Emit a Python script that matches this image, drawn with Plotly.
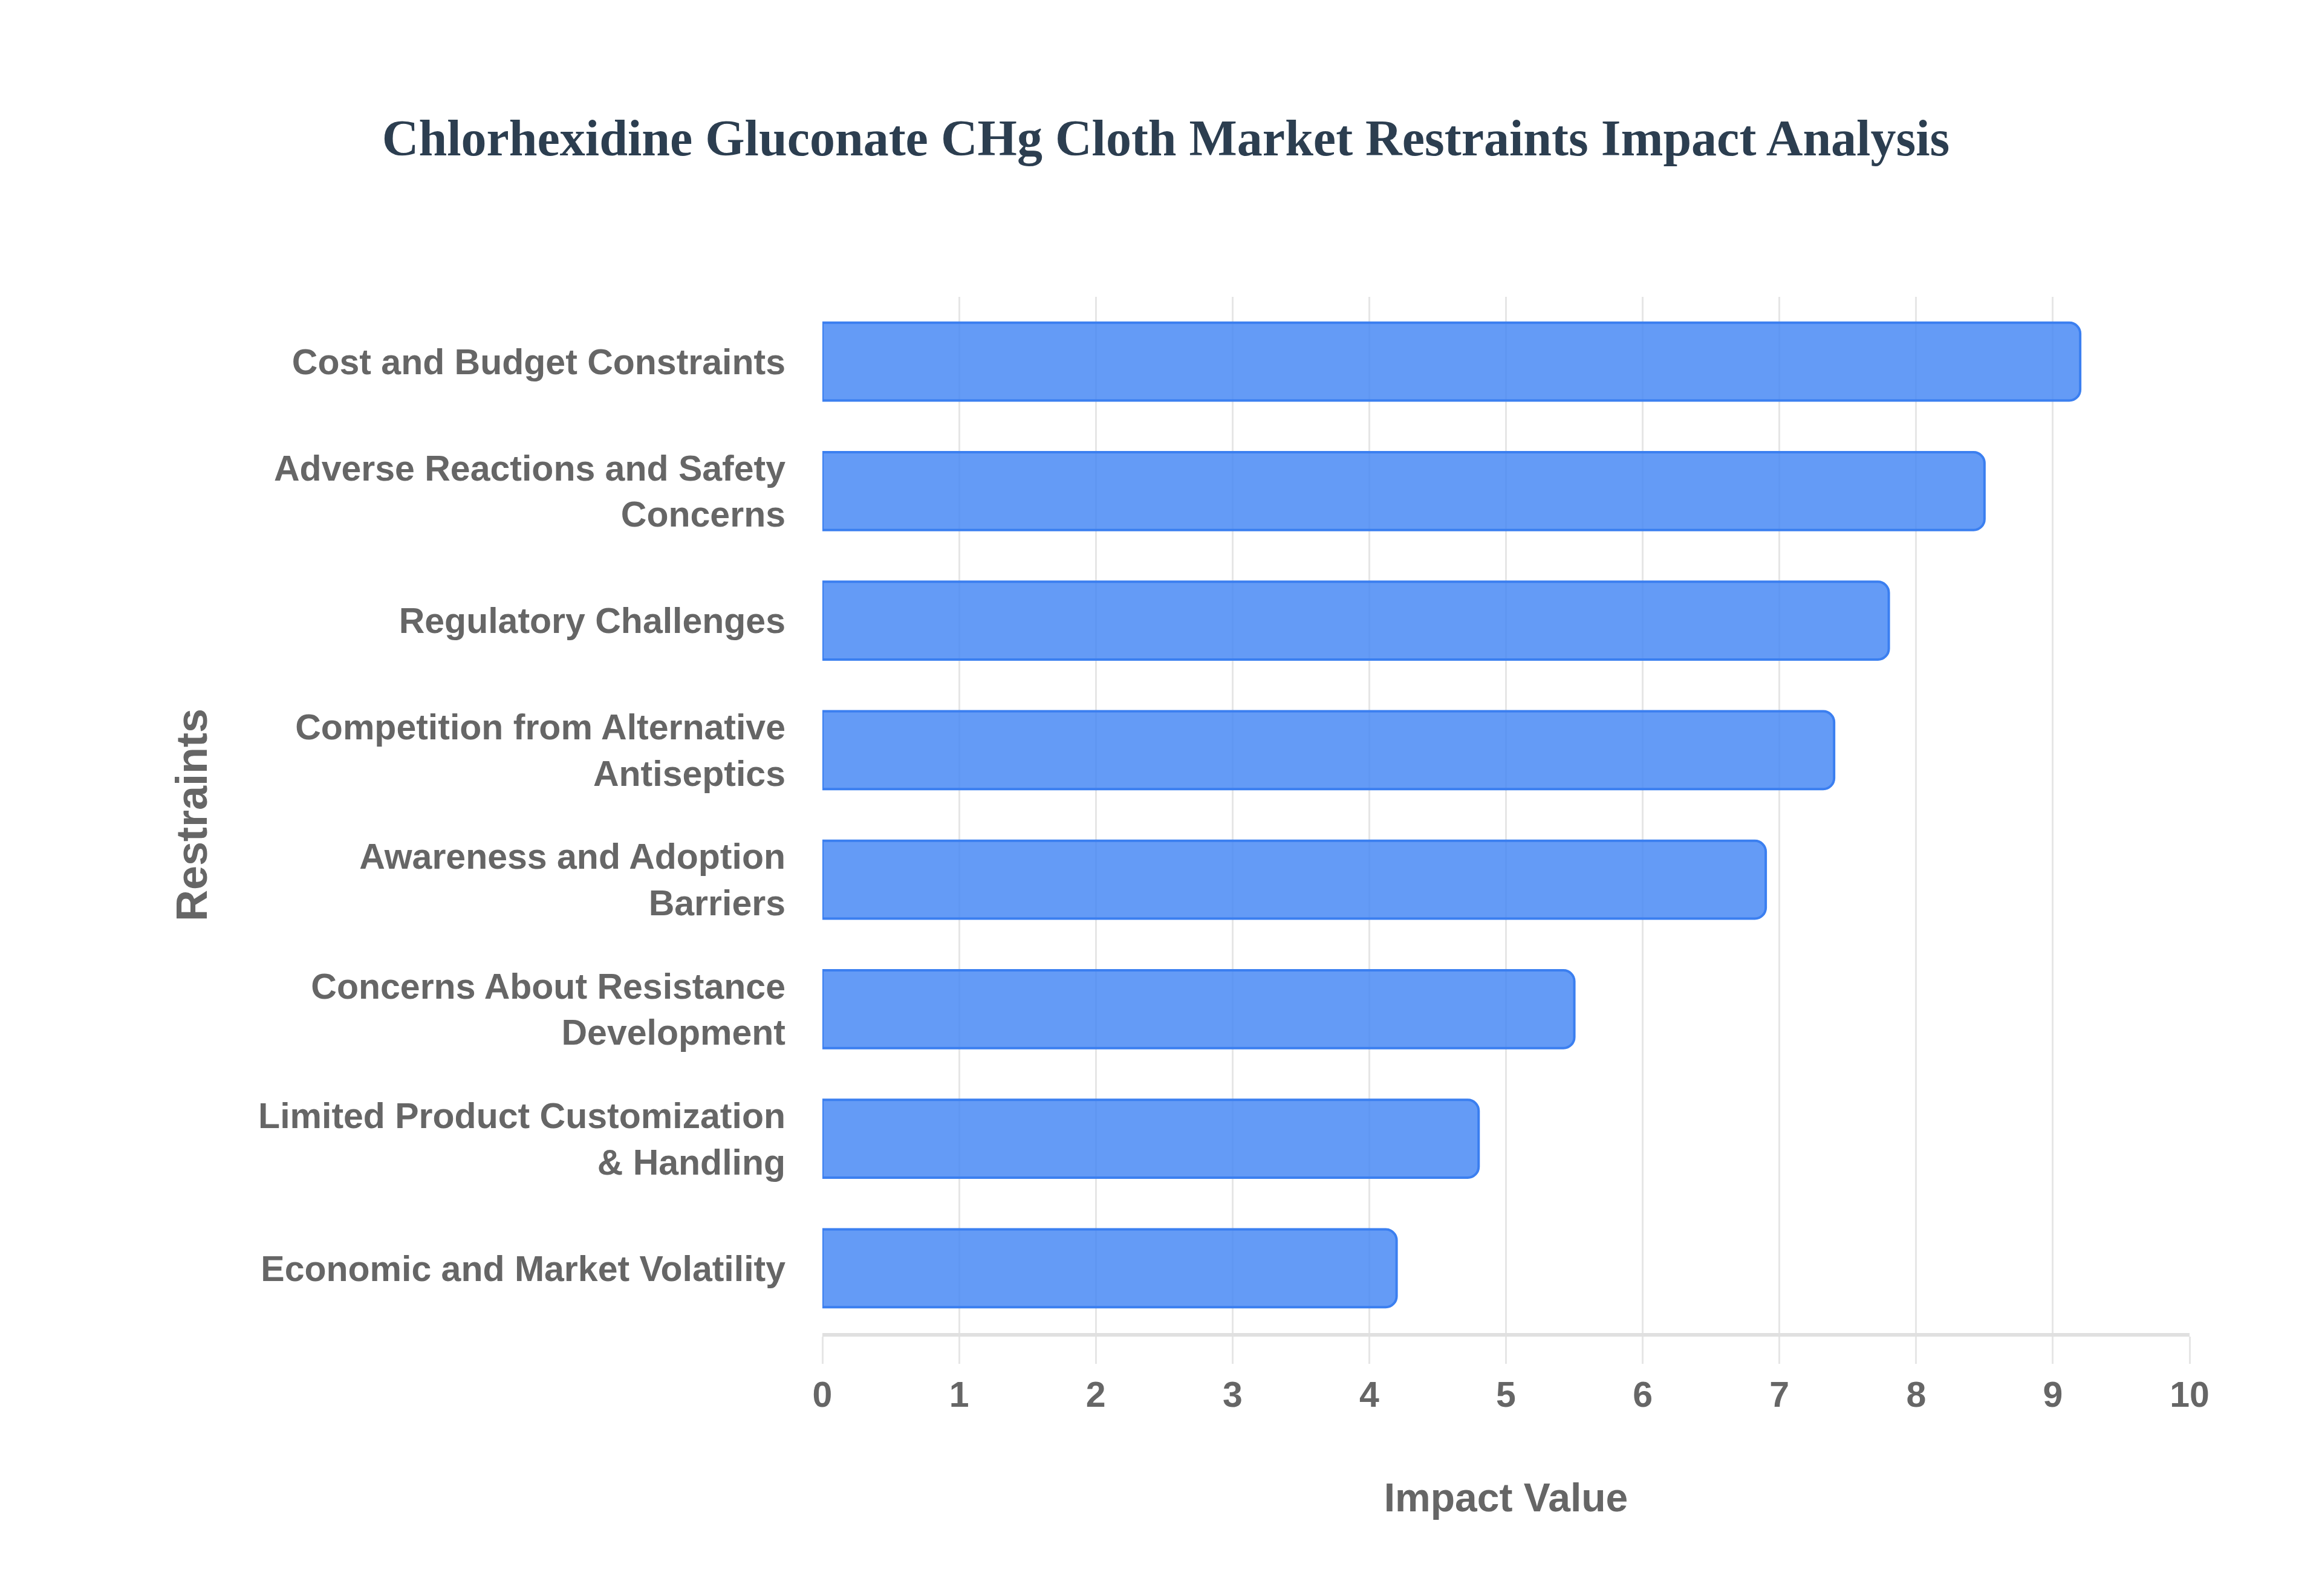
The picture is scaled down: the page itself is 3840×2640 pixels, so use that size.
import plotly.graph_objects as go

restraints = [
    "Cost and Budget Constraints",
    "Adverse Reactions and Safety<br>Concerns",
    "Regulatory Challenges",
    "Competition from Alternative<br>Antiseptics",
    "Awareness and Adoption<br>Barriers",
    "Concerns About Resistance<br>Development",
    "Limited Product Customization<br>& Handling",
    "Economic and Market Volatility",
]
impact = [9.2, 8.5, 7.8, 7.4, 6.9, 5.5, 4.8, 4.2]
x_ticks = [0, 1, 2, 3, 4, 5, 6, 7, 8, 9, 10]

fig = go.Figure(go.Bar(
    x=impact,
    y=restraints,
    orientation="h",
    width=0.6,
    marker=dict(color="rgba(66,133,244,0.82)",
                line=dict(color="#3b7ff0", width=4),
                cornerradius=18),
))

fig.update_layout(
    width=3840, height=2640,
    plot_bgcolor="white", paper_bgcolor="white",
    margin=dict(l=1352, r=227, t=483, b=443),
    showlegend=False,
    title=dict(text="<b>Chlorhexidine Gluconate CHg Cloth Market Restraints Impact Analysis</b>",
               font=dict(family="Liberation Serif", size=84, color="#2c3e50"),
               x=0.5, xanchor="center", y=1 - 220 / 2640, yanchor="middle"),
    font=dict(family="Liberation Sans", color="#666666"),
)

fig.update_xaxes(
    range=[0, 10], tickvals=x_ticks,
    showgrid=True, gridcolor="#e6e6e6", gridwidth=3,
    ticks="outside", ticklen=45, tickcolor="#e6e6e6", tickwidth=3,
    tickfont=dict(size=59, family="Liberation Sans", color="#666666", weight="bold"),
    showline=True, linecolor="#e0e0e0", linewidth=6,
    zeroline=False,
    title=dict(text="<b>Impact Value</b>", font=dict(size=66, color="#666666"), standoff=117),
)
fig.update_yaxes(
    autorange="reversed",
    showgrid=False, zeroline=False, showline=False,
    ticks="", ticklabelstandoff=60,
    tickfont=dict(size=59, family="Liberation Sans", color="#666666", weight="bold"),
    title=dict(text="<b>Restraints</b>", font=dict(size=72, color="#666666"), standoff=60),
)

fig.write_html("out.html")
